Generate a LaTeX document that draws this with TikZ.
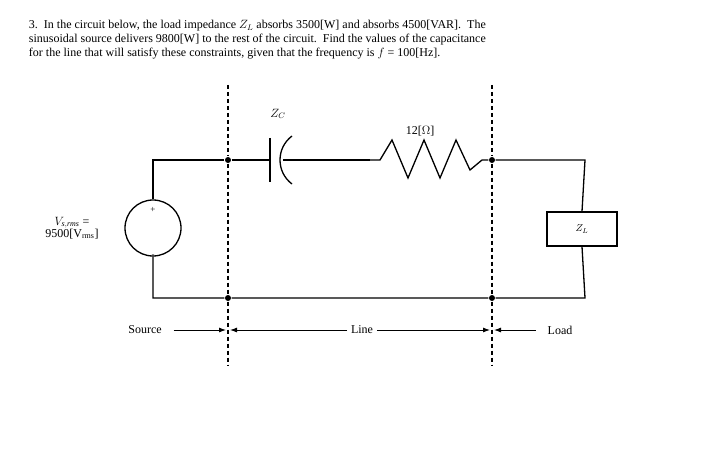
\documentclass[tikz,border=0pt]{standalone}
\usepackage{fontspec}
\setmainfont{Liberation Serif}
\usetikzlibrary{arrows.meta,positioning,decorations.pathmorphing}
\begin{document}
\begin{tikzpicture}[x=1pt,y=-1pt,line width=1.3pt,
    dot/.style={circle,fill,inner sep=0pt,minimum size=6pt},
    divider/.style={dashed,line width=1.1pt,dash pattern=on 4pt off 3pt},
    span/.style={-{Latex[length=7pt,width=5pt]},line width=0.9pt},
    txt/.style={font=\fontsize{12}{14}\selectfont}]
    \useasboundingbox (0,0) rectangle (703,449);

    \node[txt,anchor=west,align=left] (q) at (25,40) {3.\ \ In the circuit below, the load impedance $Z_L$ absorbs 3500[W] and absorbs 4500[VAR].\ \ The\\
      sinusoidal source delivers 9800[W] to the rest of the circuit.\ \ Find the values of the capacitance\\
      for the line that will satisfy these constraints, given that the frequency is $f$ = 100[Hz].};

    % circuit
    \node[circle,draw,minimum size=56pt,inner sep=0pt] (src) at (153,228) {};
    \node[font=\small] at (153,210) {+};
    \node[font=\small] at (153,256) {-};
    \node[draw,minimum width=70pt,minimum height=34pt] (load) at (582,229) {$Z_L$};
    \coordinate (tl) at (153,160);  \coordinate (bl) at (153,298);
    \coordinate (tr) at (585,160);  \coordinate (br) at (585,298);
    \node[dot] (a) at (228,160) {};  \node[dot] (b) at (228,298) {};
    \node[dot] (c) at (492,160) {};  \node[dot] (d) at (492,298) {};
    \coordinate (c1) at (270,160);  \coordinate (c2) at (283,160);
    \coordinate (r1) at (370,160);  \coordinate (r2) at (482,160);

    \draw (src.north) -- (tl) -- (a) -- (c1);
    \draw (270,138) -- (270,182);
    \draw (292,136) .. controls (276,148) and (276,172) .. (292,184);
    \draw (c2) -- (r1);
    \draw (r1) -- (380,160) -- (392,140) -- (408,178) -- (424,140) -- (440,178) -- (456,140) -- (470,170) -- (r2) -- (c) -- (tr) -- (load.north);
    \draw (load.south) -- (br) -- (d) -- (b) -- (bl) -- (src.south);
    \node[txt] at (278,114) {$Z_C$};
    \node[txt] at (420,131) {12[$\Omega$]};
    \node[txt,align=center] at (72,228) {$V_{\mathit{s,rms}}$ =\\[-2pt] 9500[V$_{\mathrm{rms}}$]};

    % regions
    \draw[divider] (228,85) -- (a) -- (b) -- (228,365);
    \draw[divider] (492,85) -- (c) -- (d) -- (492,365);
    \node[txt] (sl) at (145,330) {Source};
    \node[txt] (ll) at (362,330) {Line};
    \node[txt] (dl) at (560,330) {Load};
    \draw[span] (sl.east) ++(8,0) -- (226,330);
    \draw[span] (ll.west) -- (230,330);
    \draw[span] (ll.east) -- (490,330);
    \draw[span] (dl.west) ++(-8,0) -- (494,330);
\end{tikzpicture}
\end{document}
